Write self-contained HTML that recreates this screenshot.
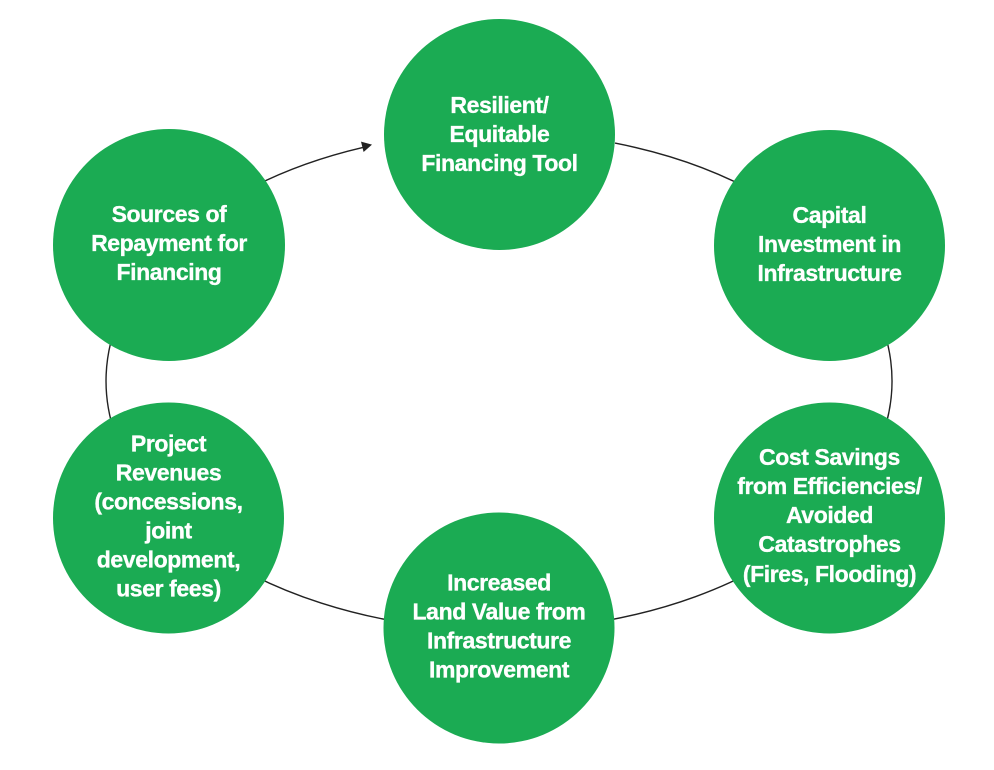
<!DOCTYPE html>
<html>
<head>
<meta charset="utf-8">
<style>
  html, body { margin: 0; padding: 0; background: #ffffff; }
  body { width: 994px; height: 770px; overflow: hidden; }
  svg { display: block; }
  text {
    font-family: "Liberation Sans", Arial, sans-serif;
    font-weight: bold;
    font-size: 23px;
    letter-spacing: -0.4px;
    fill: #ffffff;
    stroke: #ffffff;
    stroke-width: 0.35px;
    text-anchor: middle;
  }
</style>
</head>
<body>
<svg width="994" height="770" viewBox="0 0 994 770" xmlns="http://www.w3.org/2000/svg">
  <!-- connector ellipse arc -->
  <path d="M 615 143.1 A 393 249 0 1 1 363 147.4" fill="none" stroke="#222222" stroke-width="1.4"/>
  <!-- arrowhead -->
  <polygon points="372,144.6 361,141.6 363.6,152" fill="#222222"/>

  <!-- circles -->
  <circle cx="499.5" cy="134.5" r="115.5" fill="#1bab53"/>
  <circle cx="829.5" cy="245.5" r="115.5" fill="#1bab53"/>
  <circle cx="829.5" cy="518" r="115.5" fill="#1bab53"/>
  <circle cx="499" cy="628" r="115.5" fill="#1bab53"/>
  <circle cx="168.5" cy="518" r="115.5" fill="#1bab53"/>
  <circle cx="169" cy="245" r="116" fill="#1bab53"/>

  <!-- top center -->
  <text x="499.5" y="113">Resilient/</text>
  <text x="499.5" y="142">Equitable</text>
  <text x="499.5" y="171">Financing Tool</text>

  <!-- top right -->
  <text x="829.5" y="223">Capital</text>
  <text x="829.5" y="252">Investment in</text>
  <text x="829.5" y="281">Infrastructure</text>

  <!-- bottom right -->
  <text x="829.5" y="465">Cost Savings</text>
  <text x="829.5" y="494">from Efficiencies/</text>
  <text x="829.5" y="523">Avoided</text>
  <text x="829.5" y="552">Catastrophes</text>
  <text x="829.5" y="582">(Fires, Flooding)</text>

  <!-- bottom center -->
  <text x="499" y="590.5">Increased</text>
  <text x="499" y="619.5">Land Value from</text>
  <text x="499" y="648.5">Infrastructure</text>
  <text x="499" y="677.5">Improvement</text>

  <!-- bottom left -->
  <text x="168.5" y="451.5">Project</text>
  <text x="168.5" y="480.5">Revenues</text>
  <text x="168.5" y="509.5">(concessions,</text>
  <text x="168.5" y="538.5">joint</text>
  <text x="168.5" y="567.5">development,</text>
  <text x="168.5" y="596.5">user fees)</text>

  <!-- top left -->
  <text x="169" y="222">Sources of</text>
  <text x="169" y="251">Repayment for</text>
  <text x="169" y="280">Financing</text>
</svg>
</body>
</html>
